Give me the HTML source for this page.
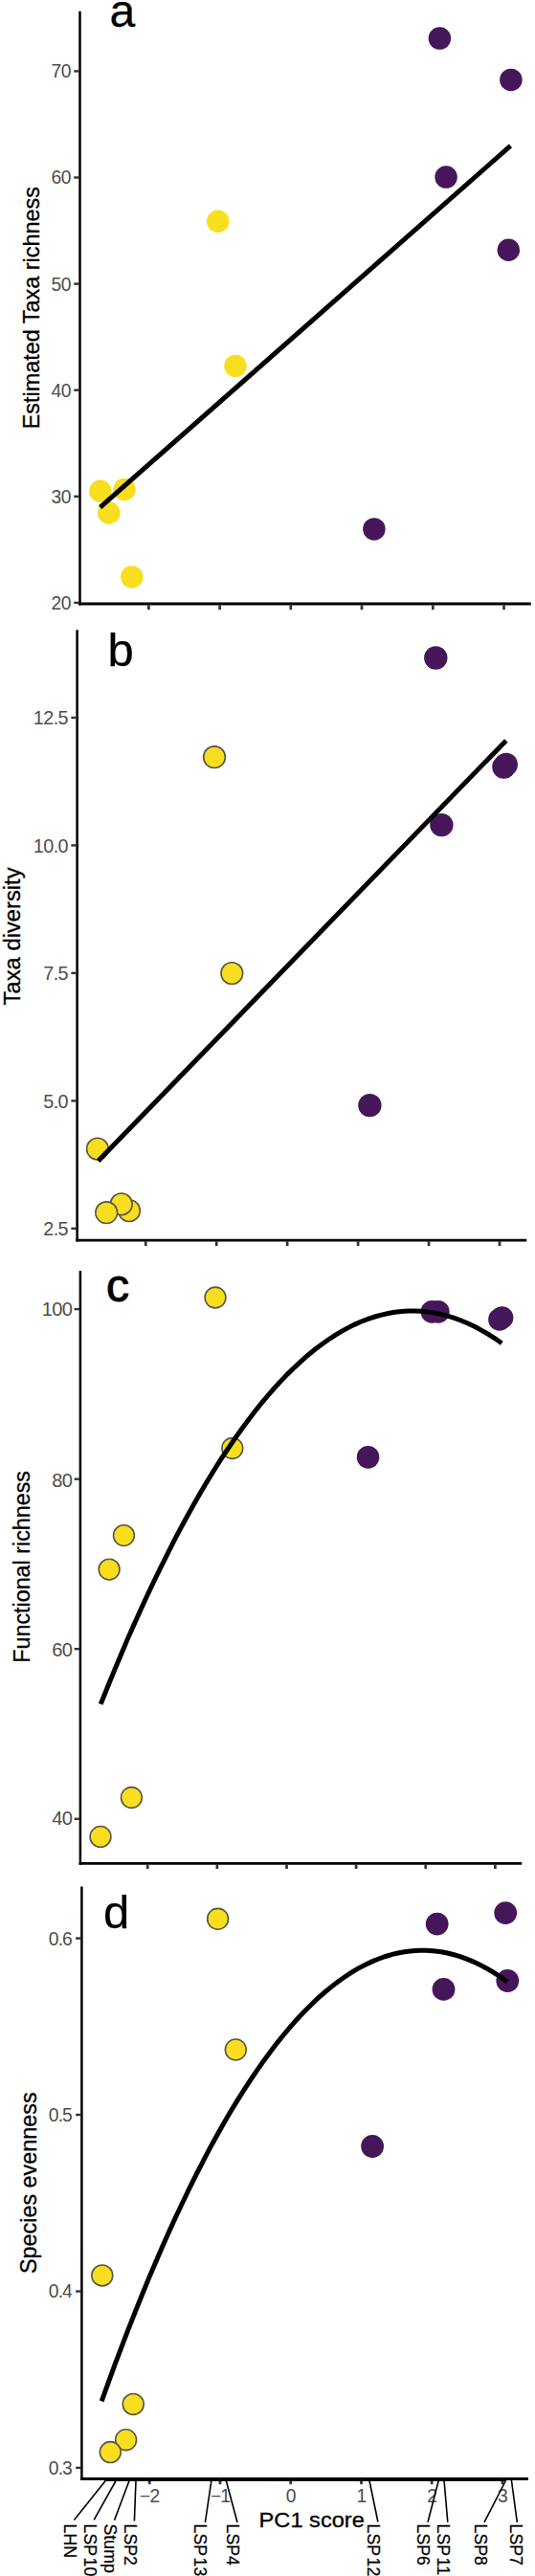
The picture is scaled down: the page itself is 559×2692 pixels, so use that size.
<!DOCTYPE html>
<html lang="en">
<head>
<meta charset="utf-8">
<title>Figure: diversity metrics vs PC1 score</title>
<style>
html,body{margin:0;padding:0;background:#fff;}
body{width:559px;height:2692px;overflow:hidden;}
svg{display:block;font-family:"Liberation Sans",Arial,Helvetica,sans-serif;}
</style>
</head>
<body>
<svg width="559" height="2692" viewBox="0 0 559 2692">
<rect width="559" height="2692" fill="#fff"/>
<g>
<line x1="83.5" y1="11.8" x2="83.5" y2="632.50" stroke="#000" stroke-width="2.5"/>
<line x1="82.25" y1="631.0" x2="554.8" y2="631.0" stroke="#000" stroke-width="3.0"/>
<line x1="77.25" y1="74.4" x2="82.45" y2="74.4" stroke="#333" stroke-width="2.4"/>
<text transform="translate(73.85 81.30) scale(1.0 1)" text-anchor="end" font-size="19.3" letter-spacing="-0.6" fill="#4D4D4D">70</text>
<line x1="77.25" y1="185.5" x2="82.45" y2="185.5" stroke="#333" stroke-width="2.4"/>
<text transform="translate(73.85 192.40) scale(1.0 1)" text-anchor="end" font-size="19.3" letter-spacing="-0.6" fill="#4D4D4D">60</text>
<line x1="77.25" y1="296.6" x2="82.45" y2="296.6" stroke="#333" stroke-width="2.4"/>
<text transform="translate(73.85 303.50) scale(1.0 1)" text-anchor="end" font-size="19.3" letter-spacing="-0.6" fill="#4D4D4D">50</text>
<line x1="77.25" y1="407.7" x2="82.45" y2="407.7" stroke="#333" stroke-width="2.4"/>
<text transform="translate(73.85 414.60) scale(1.0 1)" text-anchor="end" font-size="19.3" letter-spacing="-0.6" fill="#4D4D4D">40</text>
<line x1="77.25" y1="518.8" x2="82.45" y2="518.8" stroke="#333" stroke-width="2.4"/>
<text transform="translate(73.85 525.70) scale(1.0 1)" text-anchor="end" font-size="19.3" letter-spacing="-0.6" fill="#4D4D4D">30</text>
<line x1="77.25" y1="629.9" x2="82.45" y2="629.9" stroke="#333" stroke-width="2.4"/>
<text transform="translate(73.85 636.80) scale(1.0 1)" text-anchor="end" font-size="19.3" letter-spacing="-0.6" fill="#4D4D4D">20</text>
<line x1="155.4" y1="632.30" x2="155.4" y2="637.20" stroke="#333" stroke-width="2.6999999999999997"/>
<line x1="229.6" y1="632.30" x2="229.6" y2="637.20" stroke="#333" stroke-width="2.6999999999999997"/>
<line x1="303.8" y1="632.30" x2="303.8" y2="637.20" stroke="#333" stroke-width="2.6999999999999997"/>
<line x1="378.0" y1="632.30" x2="378.0" y2="637.20" stroke="#333" stroke-width="2.6999999999999997"/>
<line x1="452.3" y1="632.30" x2="452.3" y2="637.20" stroke="#333" stroke-width="2.6999999999999997"/>
<line x1="526.5" y1="632.30" x2="526.5" y2="637.20" stroke="#333" stroke-width="2.6999999999999997"/>
<text transform="translate(41.0 321.7) rotate(-90) scale(1.0 1)" text-anchor="middle" font-size="23.4" fill="#000" stroke="#000" stroke-width="0.3">Estimated Taxa richness</text>
<text x="114.5" y="27.6" font-size="48" stroke="#000" stroke-width="0.25" fill="#000">a</text>
<circle cx="227.7" cy="231.2" r="11.75" fill="#F8DE1F"/>
<circle cx="246" cy="382.4" r="11.75" fill="#F8DE1F"/>
<circle cx="104.8" cy="513.2" r="11.75" fill="#F8DE1F"/>
<circle cx="130.0" cy="511.5" r="11.75" fill="#F8DE1F"/>
<circle cx="113.8" cy="536.0" r="11.75" fill="#F8DE1F"/>
<circle cx="137.8" cy="602.9" r="11.75" fill="#F8DE1F"/>
<circle cx="459.4" cy="40.1" r="11.75" fill="#46165A"/>
<circle cx="533.9" cy="83.4" r="11.75" fill="#46165A"/>
<circle cx="466.1" cy="185.1" r="11.75" fill="#46165A"/>
<circle cx="531.3" cy="261.2" r="11.75" fill="#46165A"/>
<circle cx="390.9" cy="552.9" r="11.75" fill="#46165A"/>
<path d="M104.7 530.1L533.4 152.4" fill="none" stroke="#000" stroke-width="5.0" stroke-linecap="butt"/>
</g>
<g>
<line x1="80.6" y1="658.3" x2="80.6" y2="1297.40" stroke="#000" stroke-width="2.5"/>
<line x1="79.35" y1="1296.1" x2="550.3" y2="1296.1" stroke="#000" stroke-width="2.6"/>
<line x1="74.35" y1="750" x2="79.55" y2="750" stroke="#333" stroke-width="2.4"/>
<text transform="translate(70.95 757.10) scale(1.0 1)" text-anchor="end" font-size="19.8" letter-spacing="-0.6" fill="#4D4D4D">12.5</text>
<line x1="74.35" y1="883.4" x2="79.55" y2="883.4" stroke="#333" stroke-width="2.4"/>
<text transform="translate(70.95 890.50) scale(1.0 1)" text-anchor="end" font-size="19.8" letter-spacing="-0.6" fill="#4D4D4D">10.0</text>
<line x1="74.35" y1="1016.9" x2="79.55" y2="1016.9" stroke="#333" stroke-width="2.4"/>
<text transform="translate(70.95 1024.00) scale(1.0 1)" text-anchor="end" font-size="19.8" letter-spacing="-0.6" fill="#4D4D4D">7.5</text>
<line x1="74.35" y1="1150.4" x2="79.55" y2="1150.4" stroke="#333" stroke-width="2.4"/>
<text transform="translate(70.95 1157.50) scale(1.0 1)" text-anchor="end" font-size="19.8" letter-spacing="-0.6" fill="#4D4D4D">5.0</text>
<line x1="74.35" y1="1283.8" x2="79.55" y2="1283.8" stroke="#333" stroke-width="2.4"/>
<text transform="translate(70.95 1290.90) scale(1.0 1)" text-anchor="end" font-size="19.8" letter-spacing="-0.6" fill="#4D4D4D">2.5</text>
<line x1="152.25" y1="1297.20" x2="152.25" y2="1302.10" stroke="#333" stroke-width="2.6999999999999997"/>
<line x1="226.2" y1="1297.20" x2="226.2" y2="1302.10" stroke="#333" stroke-width="2.6999999999999997"/>
<line x1="300.15" y1="1297.20" x2="300.15" y2="1302.10" stroke="#333" stroke-width="2.6999999999999997"/>
<line x1="374.1" y1="1297.20" x2="374.1" y2="1302.10" stroke="#333" stroke-width="2.6999999999999997"/>
<line x1="448.05" y1="1297.20" x2="448.05" y2="1302.10" stroke="#333" stroke-width="2.6999999999999997"/>
<line x1="522.0" y1="1297.20" x2="522.0" y2="1302.10" stroke="#333" stroke-width="2.6999999999999997"/>
<text transform="translate(20.9 978.4) rotate(-90) scale(0.975 1)" text-anchor="middle" font-size="24.4" fill="#000" stroke="#000" stroke-width="0.3">Taxa diversity</text>
<text x="112.5" y="695.8" font-size="49" stroke="#000" stroke-width="0.25" fill="#000">b</text>
<circle cx="224" cy="791.2" r="11.35" fill="#F8DE1F" stroke="#595743" stroke-width="1.6"/>
<circle cx="242.3" cy="1017.1" r="11.35" fill="#F8DE1F" stroke="#595743" stroke-width="1.6"/>
<circle cx="101.9" cy="1200.6" r="11.35" fill="#F8DE1F" stroke="#595743" stroke-width="1.6"/>
<circle cx="135" cy="1265.1" r="11.35" fill="#F8DE1F" stroke="#595743" stroke-width="1.6"/>
<circle cx="126.8" cy="1258.4" r="11.35" fill="#F8DE1F" stroke="#595743" stroke-width="1.6"/>
<circle cx="111.2" cy="1267.2" r="11.35" fill="#F8DE1F" stroke="#595743" stroke-width="1.6"/>
<circle cx="455.3" cy="687.5" r="12.2" fill="#46165A"/>
<circle cx="526.45" cy="801.5" r="12.2" fill="#46165A"/>
<circle cx="528.8" cy="799.0" r="12.2" fill="#46165A"/>
<circle cx="461.4" cy="862.1" r="12.2" fill="#46165A"/>
<circle cx="386.4" cy="1155.1" r="12.2" fill="#46165A"/>
<path d="M102.6 1213.3L528.8 773.9" fill="none" stroke="#000" stroke-width="5.0" stroke-linecap="butt"/>
</g>
<g>
<line x1="83.9" y1="1328.1" x2="83.9" y2="1948.70" stroke="#000" stroke-width="2.5"/>
<line x1="82.65" y1="1947.4" x2="545.2" y2="1947.4" stroke="#000" stroke-width="2.6"/>
<line x1="77.65" y1="1368.1" x2="82.85" y2="1368.1" stroke="#333" stroke-width="2.4"/>
<text transform="translate(75.35 1375.00) scale(1.04 1)" text-anchor="end" font-size="19.3" letter-spacing="-0.6" fill="#4D4D4D">100</text>
<line x1="77.65" y1="1545.7" x2="82.85" y2="1545.7" stroke="#333" stroke-width="2.4"/>
<text transform="translate(75.35 1553.70) scale(1.04 1)" text-anchor="end" font-size="19.3" letter-spacing="-0.6" fill="#4D4D4D">80</text>
<line x1="77.65" y1="1723.2" x2="82.85" y2="1723.2" stroke="#333" stroke-width="2.4"/>
<text transform="translate(75.35 1730.50) scale(1.04 1)" text-anchor="end" font-size="19.3" letter-spacing="-0.6" fill="#4D4D4D">60</text>
<line x1="77.65" y1="1900.8" x2="82.85" y2="1900.8" stroke="#333" stroke-width="2.4"/>
<text transform="translate(75.35 1907.20) scale(1.04 1)" text-anchor="end" font-size="19.3" letter-spacing="-0.6" fill="#4D4D4D">40</text>
<line x1="154.2" y1="1948.50" x2="154.2" y2="1953.00" stroke="#333" stroke-width="2.6999999999999997"/>
<line x1="226.85" y1="1948.50" x2="226.85" y2="1953.00" stroke="#333" stroke-width="2.6999999999999997"/>
<line x1="299.5" y1="1948.50" x2="299.5" y2="1953.00" stroke="#333" stroke-width="2.6999999999999997"/>
<line x1="372.1" y1="1948.50" x2="372.1" y2="1953.00" stroke="#333" stroke-width="2.6999999999999997"/>
<line x1="444.75" y1="1948.50" x2="444.75" y2="1953.00" stroke="#333" stroke-width="2.6999999999999997"/>
<line x1="517.4" y1="1948.50" x2="517.4" y2="1953.00" stroke="#333" stroke-width="2.6999999999999997"/>
<text transform="translate(31.0 1637.4) rotate(-90) scale(1.0 1)" text-anchor="middle" font-size="23.3" fill="#000" stroke="#000" stroke-width="0.3">Functional richness</text>
<text x="111" y="1360.4" font-size="48" stroke="#000" stroke-width="1.0" stroke-linejoin="round" fill="#000">c</text>
<circle cx="225" cy="1356" r="10.90" fill="#F8DE1F" stroke="#595743" stroke-width="1.6"/>
<circle cx="242.8" cy="1513.5" r="10.90" fill="#F8DE1F" stroke="#595743" stroke-width="1.6"/>
<circle cx="129.4" cy="1604.6" r="10.90" fill="#F8DE1F" stroke="#595743" stroke-width="1.6"/>
<circle cx="114.1" cy="1640.1" r="10.90" fill="#F8DE1F" stroke="#595743" stroke-width="1.6"/>
<circle cx="137.4" cy="1878.5" r="10.90" fill="#F8DE1F" stroke="#595743" stroke-width="1.6"/>
<circle cx="105.0" cy="1919.4" r="10.90" fill="#F8DE1F" stroke="#595743" stroke-width="1.6"/>
<circle cx="451.4" cy="1370.9" r="11.8" fill="#46165A"/>
<circle cx="457.9" cy="1370.9" r="11.8" fill="#46165A"/>
<circle cx="521.95" cy="1378.9" r="11.8" fill="#46165A"/>
<circle cx="524.6" cy="1377.0" r="11.8" fill="#46165A"/>
<circle cx="384.55" cy="1522.9" r="11.8" fill="#46165A"/>
<path d="M105.2 1780.9L112.2 1763.5L119.2 1746.4L126.2 1729.7L133.1 1713.4L140.1 1697.5L147.1 1682.0L154.1 1666.8L161.1 1652.0L168.1 1637.6L175.1 1623.6L182.0 1609.9L189.0 1596.7L196.0 1583.8L203.0 1571.2L210.0 1559.1L217.0 1547.3L223.9 1536.0L230.9 1524.9L237.9 1514.3L244.9 1504.1L251.9 1494.2L258.9 1484.7L265.9 1475.6L272.8 1466.8L279.8 1458.5L286.8 1450.5L293.8 1442.9L300.8 1435.6L307.8 1428.8L314.8 1422.3L321.7 1416.2L328.7 1410.5L335.7 1405.2L342.7 1400.2L349.7 1395.6L356.7 1391.4L363.6 1387.6L370.6 1384.1L377.6 1381.0L384.6 1378.3L391.6 1376.0L398.6 1374.1L405.6 1372.5L412.5 1371.3L419.5 1370.5L426.5 1370.1L433.5 1370.0L440.5 1370.3L447.5 1371.0L454.4 1372.1L461.4 1373.6L468.4 1375.4L475.4 1377.6L482.4 1380.2L489.4 1383.2L496.4 1386.5L503.3 1390.3L510.3 1394.4L517.3 1398.8L524.3 1403.7" fill="none" stroke="#000" stroke-width="5.0" stroke-linecap="butt"/>
</g>
<g>
<line x1="85.4" y1="1971.5" x2="85.4" y2="2591.90" stroke="#000" stroke-width="2.5"/>
<line x1="84.15" y1="2590.5" x2="552.0" y2="2590.5" stroke="#000" stroke-width="2.8"/>
<line x1="79.15" y1="2025.6" x2="84.35" y2="2025.6" stroke="#333" stroke-width="2.4"/>
<text transform="translate(74.95 2032.50) scale(1.0 1)" text-anchor="end" font-size="19.3" letter-spacing="-0.9" fill="#4D4D4D">0.6</text>
<line x1="79.15" y1="2210.0" x2="84.35" y2="2210.0" stroke="#333" stroke-width="2.4"/>
<text transform="translate(74.95 2216.90) scale(1.0 1)" text-anchor="end" font-size="19.3" letter-spacing="-0.9" fill="#4D4D4D">0.5</text>
<line x1="79.15" y1="2394.5" x2="84.35" y2="2394.5" stroke="#333" stroke-width="2.4"/>
<text transform="translate(74.95 2401.40) scale(1.0 1)" text-anchor="end" font-size="19.3" letter-spacing="-0.9" fill="#4D4D4D">0.4</text>
<line x1="79.15" y1="2578.9" x2="84.35" y2="2578.9" stroke="#333" stroke-width="2.4"/>
<text transform="translate(74.95 2585.80) scale(1.0 1)" text-anchor="end" font-size="19.3" letter-spacing="-0.9" fill="#4D4D4D">0.3</text>
<line x1="156.2" y1="2591.70" x2="156.2" y2="2596.20" stroke="#333" stroke-width="2.6999999999999997"/>
<text transform="translate(156.2 2614.60) scale(1.0 1)" text-anchor="middle" font-size="19.3" letter-spacing="-0.9" fill="#4D4D4D">−2</text>
<line x1="230.0" y1="2591.70" x2="230.0" y2="2596.20" stroke="#333" stroke-width="2.6999999999999997"/>
<text transform="translate(230.0 2614.60) scale(1.0 1)" text-anchor="middle" font-size="19.3" letter-spacing="-0.9" fill="#4D4D4D">−1</text>
<line x1="303.7" y1="2591.70" x2="303.7" y2="2596.20" stroke="#333" stroke-width="2.6999999999999997"/>
<text transform="translate(303.7 2614.60) scale(1.0 1)" text-anchor="middle" font-size="19.3" letter-spacing="-0.9" fill="#4D4D4D">0</text>
<line x1="377.5" y1="2591.70" x2="377.5" y2="2596.20" stroke="#333" stroke-width="2.6999999999999997"/>
<text transform="translate(377.5 2614.60) scale(1.0 1)" text-anchor="middle" font-size="19.3" letter-spacing="-0.9" fill="#4D4D4D">1</text>
<line x1="451.2" y1="2591.70" x2="451.2" y2="2596.20" stroke="#333" stroke-width="2.6999999999999997"/>
<text transform="translate(451.2 2614.60) scale(1.0 1)" text-anchor="middle" font-size="19.3" letter-spacing="-0.9" fill="#4D4D4D">2</text>
<line x1="525.0" y1="2591.70" x2="525.0" y2="2596.20" stroke="#333" stroke-width="2.6999999999999997"/>
<text transform="translate(525.0 2614.60) scale(1.0 1)" text-anchor="middle" font-size="19.3" letter-spacing="-0.9" fill="#4D4D4D">3</text>
<text transform="translate(38.4 2281.2) rotate(-90) scale(1.0 1)" text-anchor="middle" font-size="23.4" fill="#000" stroke="#000" stroke-width="0.3">Species evenness</text>
<text x="108.1" y="2014.6" font-size="49" stroke="#000" stroke-width="0.25" fill="#000">d</text>
<circle cx="227.6" cy="2005.3" r="10.95" fill="#F8DE1F" stroke="#595743" stroke-width="1.6"/>
<circle cx="246.3" cy="2142.0" r="10.95" fill="#F8DE1F" stroke="#595743" stroke-width="1.6"/>
<circle cx="106.8" cy="2377.9" r="10.95" fill="#F8DE1F" stroke="#595743" stroke-width="1.6"/>
<circle cx="139.2" cy="2512.4" r="10.95" fill="#F8DE1F" stroke="#595743" stroke-width="1.6"/>
<circle cx="131.6" cy="2549.7" r="10.95" fill="#F8DE1F" stroke="#595743" stroke-width="1.6"/>
<circle cx="115.3" cy="2562.6" r="10.95" fill="#F8DE1F" stroke="#595743" stroke-width="1.6"/>
<circle cx="456.7" cy="2010.6" r="11.9" fill="#46165A"/>
<circle cx="528.2" cy="1999.1" r="11.9" fill="#46165A"/>
<circle cx="463.5" cy="2078.9" r="11.9" fill="#46165A"/>
<circle cx="530.3" cy="2070" r="11.9" fill="#46165A"/>
<circle cx="389.1" cy="2243.0" r="11.9" fill="#46165A"/>
<path d="M106.2 2509.3L113.3 2489.6L120.3 2470.4L127.4 2451.6L134.5 2433.2L141.5 2415.3L148.6 2397.7L155.6 2380.6L162.7 2363.9L169.8 2347.6L176.8 2331.7L183.9 2316.2L191.0 2301.2L198.0 2286.6L205.1 2272.4L212.2 2258.6L219.2 2245.2L226.3 2232.3L233.3 2219.8L240.4 2207.6L247.5 2195.9L254.5 2184.7L261.6 2173.8L268.7 2163.4L275.7 2153.4L282.8 2143.8L289.8 2134.6L296.9 2125.8L304.0 2117.4L311.0 2109.5L318.1 2102.0L325.2 2094.9L332.2 2088.2L339.3 2082.0L346.4 2076.1L353.4 2070.7L360.5 2065.7L367.5 2061.1L374.6 2056.9L381.7 2053.2L388.7 2049.9L395.8 2047.0L402.9 2044.5L409.9 2042.4L417.0 2040.7L424.1 2039.5L431.1 2038.7L438.2 2038.2L445.2 2038.3L452.3 2038.7L459.4 2039.5L466.4 2040.8L473.5 2042.5L480.6 2044.6L487.6 2047.1L494.7 2050.1L501.7 2053.4L508.8 2057.2L515.9 2061.4L522.9 2066.0L530.0 2071.0" fill="none" stroke="#000" stroke-width="5.0" stroke-linecap="butt"/>
</g>
<text transform="translate(325.7 2640.7) scale(1.045 1)" text-anchor="middle" font-size="22.6" fill="#000" stroke="#000" stroke-width="0.3">PC1 score</text>
<line x1="109.5" y1="2592.5" x2="528.6" y2="2592.5" stroke="#000" stroke-width="1.0"/>
<line x1="110.6" y1="2592" x2="77.4" y2="2633.4" stroke="#000" stroke-width="1.6"/>
<text transform="translate(66.8 2637.5) rotate(90)" font-size="17.8" fill="#000" stroke="#000" stroke-width="0.25">LHN</text>
<line x1="121.3" y1="2592" x2="98.2" y2="2633.4" stroke="#000" stroke-width="1.6"/>
<text transform="translate(87.5 2637.5) rotate(90)" font-size="17.8" fill="#000" stroke="#000" stroke-width="0.25">LSP<tspan dx="1.5">10</tspan></text>
<line x1="135.2" y1="2592" x2="119.5" y2="2633.8" stroke="#000" stroke-width="1.6"/>
<text transform="translate(108.5 2637.5) rotate(90)" font-size="17.8" fill="#000" stroke="#000" stroke-width="0.25">Stump</text>
<line x1="142.0" y1="2592" x2="140.4" y2="2634.5" stroke="#000" stroke-width="1.6"/>
<text transform="translate(129.6 2637.5) rotate(90)" font-size="17.8" fill="#000" stroke="#000" stroke-width="0.25">LSP2</text>
<line x1="220.9" y1="2592" x2="214.4" y2="2636" stroke="#000" stroke-width="1.6"/>
<text transform="translate(203.3 2637.5) rotate(90)" font-size="17.8" fill="#000" stroke="#000" stroke-width="0.25">LSP<tspan dx="1.5">13</tspan></text>
<line x1="236.2" y1="2592" x2="248.0" y2="2636" stroke="#000" stroke-width="1.6"/>
<text transform="translate(237.2 2637.5) rotate(90)" font-size="17.8" fill="#000" stroke="#000" stroke-width="0.25">LSP4</text>
<line x1="385.9" y1="2592" x2="394.9" y2="2635.5" stroke="#000" stroke-width="1.6"/>
<text transform="translate(383.8 2637.5) rotate(90)" font-size="17.8" fill="#000" stroke="#000" stroke-width="0.25">LSP<tspan dx="1.5">12</tspan></text>
<line x1="458.3" y1="2592" x2="447.0" y2="2635.8" stroke="#000" stroke-width="1.6"/>
<text transform="translate(435.8 2637.5) rotate(90)" font-size="17.8" fill="#000" stroke="#000" stroke-width="0.25">LSP6</text>
<line x1="464.0" y1="2592" x2="467.8" y2="2635.8" stroke="#000" stroke-width="1.6"/>
<text transform="translate(456.9 2637.5) rotate(90)" font-size="17.8" fill="#000" stroke="#000" stroke-width="0.25">LSP<tspan dx="1.5">11</tspan></text>
<line x1="528.6" y1="2592" x2="506.0" y2="2635.8" stroke="#000" stroke-width="1.6"/>
<text transform="translate(495.8 2637.5) rotate(90)" font-size="17.8" fill="#000" stroke="#000" stroke-width="0.25">LSP8</text>
<line x1="534.3" y1="2591" x2="540.3" y2="2635.8" stroke="#000" stroke-width="1.6"/>
<text transform="translate(532.6 2637.5) rotate(90)" font-size="17.8" fill="#000" stroke="#000" stroke-width="0.25">LSP7</text>
</svg>
</body>
</html>
